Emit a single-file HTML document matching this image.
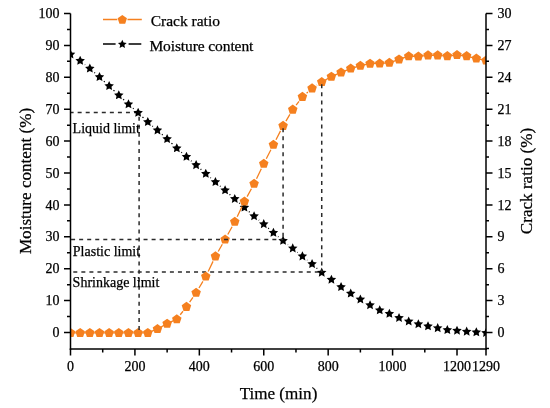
<!DOCTYPE html>
<html><head><meta charset="utf-8"><title>Moisture content and crack ratio vs time</title>
<style>
html,body{margin:0;padding:0;background:#fff;}
body{width:550px;height:408px;overflow:hidden;}
svg{display:block;}
text{font-family:"Liberation Serif","Times New Roman",serif;fill:#000;stroke:#000;stroke-width:0.25px;}
</style></head><body>
<svg width="550" height="408" viewBox="0 0 550 408">
<rect width="550" height="408" fill="#fff"/>
<path d="M70.5 112.5L138.14 112.5" stroke="#2b2b2b" stroke-width="1.5" fill="none" stroke-dasharray="4 4.05" stroke-dashoffset="0.9"/>
<path d="M70.5 271.9L321.73 271.9" stroke="#2b2b2b" stroke-width="1.5" fill="none" stroke-dasharray="4 4.05" stroke-dashoffset="5.25"/>
<defs><clipPath id="pa"><rect x="70.5" y="0" width="415.5" height="349.1"/></clipPath></defs>
<g clip-path="url(#pa)">
<path d="M84.87 64.52L85.12 64.72M94.3 72.44L95.01 73.07M103.89 81.13L104.75 81.92M113.49 90.14L114.48 91.1M123.22 99.32L124.07 100.1M132.96 108.17L133.66 108.8M142.47 116.94L143.47 117.89M152.36 125.95L152.91 126.43M161.94 134.33L162.65 134.96M171.46 143.1L172.46 144.05M181.27 152.19L181.97 152.82M191.01 160.72L191.56 161.2M200.6 169.1L201.3 169.73M210.33 177.63L210.89 178.11M219.99 185.92L220.55 186.4M229.58 194.3L230.29 194.93M239.25 202.91L239.95 203.54M248.91 211.53L249.61 212.15M258.72 219.97L259.13 220.3M268.23 228.11L268.94 228.74M278.05 236.55L278.45 236.89M287.78 244.44L288.04 244.64M297.37 252.18L297.78 252.52M307.11 260.07L307.37 260.27M316.55 267.99L317.25 268.62M336.17 283.26L336.28 283.34" stroke="#000" stroke-width="1.3" fill="none"/>
<polygon points="70.5,49.41 71.94,52.43 75.26,52.87 72.83,55.17 73.44,58.46 70.5,56.86 67.56,58.46 68.17,55.17 65.74,52.87 69.06,52.43" fill="#000"/>
<polygon points="80.16,55.79 81.6,58.81 84.92,59.25 82.49,61.55 83.1,64.84 80.16,63.24 77.22,64.84 77.83,61.55 75.41,59.25 78.72,58.81" fill="#000"/>
<polygon points="89.83,63.45 91.27,66.47 94.58,66.9 92.16,69.21 92.76,72.49 89.83,70.9 86.89,72.49 87.5,69.21 85.07,66.9 88.39,66.47" fill="#000"/>
<polygon points="99.49,72.06 100.93,75.08 104.24,75.52 101.82,77.82 102.43,81.11 99.49,79.51 96.55,81.11 97.16,77.82 94.73,75.52 98.05,75.08" fill="#000"/>
<polygon points="109.15,80.99 110.59,84.01 113.91,84.45 111.48,86.75 112.09,90.04 109.15,88.44 106.21,90.04 106.82,86.75 104.4,84.45 107.71,84.01" fill="#000"/>
<polygon points="118.81,90.25 120.25,93.26 123.57,93.7 121.14,96 121.75,99.29 118.81,97.7 115.88,99.29 116.48,96 114.06,93.7 117.37,93.26" fill="#000"/>
<polygon points="128.48,99.18 129.92,102.19 133.23,102.63 130.81,104.93 131.42,108.22 128.48,106.63 125.54,108.22 126.15,104.93 123.72,102.63 127.04,102.19" fill="#000"/>
<polygon points="138.14,107.79 139.58,110.81 142.89,111.24 140.47,113.55 141.08,116.84 138.14,115.24 135.2,116.84 135.81,113.55 133.38,111.24 136.7,110.81" fill="#000"/>
<polygon points="147.8,117.04 149.24,120.06 152.56,120.5 150.13,122.8 150.74,126.09 147.8,124.49 144.86,126.09 145.47,122.8 143.05,120.5 146.36,120.06" fill="#000"/>
<polygon points="157.47,125.34 158.91,128.35 162.22,128.79 159.8,131.09 160.4,134.38 157.47,132.78 154.53,134.38 155.14,131.09 152.71,128.79 156.03,128.35" fill="#000"/>
<polygon points="167.13,133.95 168.57,136.97 171.88,137.4 169.46,139.71 170.07,142.99 167.13,141.4 164.19,142.99 164.8,139.71 162.37,137.4 165.69,136.97" fill="#000"/>
<polygon points="176.79,143.2 178.23,146.22 181.55,146.65 179.12,148.96 179.73,152.24 176.79,150.65 173.85,152.24 174.46,148.96 172.04,146.65 175.35,146.22" fill="#000"/>
<polygon points="186.45,151.81 187.89,154.83 191.21,155.27 188.78,157.57 189.39,160.86 186.45,159.26 183.51,160.86 184.12,157.57 181.7,155.27 185.01,154.83" fill="#000"/>
<polygon points="196.12,160.11 197.56,163.12 200.87,163.56 198.45,165.86 199.06,169.15 196.12,167.56 193.18,169.15 193.79,165.86 191.36,163.56 194.68,163.12" fill="#000"/>
<polygon points="205.78,168.72 207.22,171.74 210.53,172.17 208.11,174.48 208.72,177.76 205.78,176.17 202.84,177.76 203.45,174.48 201.02,172.17 204.34,171.74" fill="#000"/>
<polygon points="215.44,177.01 216.88,180.03 220.2,180.47 217.77,182.77 218.38,186.06 215.44,184.46 212.5,186.06 213.11,182.77 210.69,180.47 214,180.03" fill="#000"/>
<polygon points="225.1,185.31 226.54,188.32 229.86,188.76 227.43,191.06 228.04,194.35 225.1,192.76 222.17,194.35 222.77,191.06 220.35,188.76 223.66,188.32" fill="#000"/>
<polygon points="234.77,193.92 236.21,196.94 239.52,197.37 237.1,199.68 237.71,202.97 234.77,201.37 231.83,202.97 232.44,199.68 230.01,197.37 233.33,196.94" fill="#000"/>
<polygon points="244.43,202.53 245.87,205.55 249.19,205.99 246.76,208.29 247.37,211.58 244.43,209.98 241.49,211.58 242.1,208.29 239.67,205.99 242.99,205.55" fill="#000"/>
<polygon points="254.09,211.15 255.53,214.16 258.85,214.6 256.42,216.9 257.03,220.19 254.09,218.6 251.15,220.19 251.76,216.9 249.34,214.6 252.65,214.16" fill="#000"/>
<polygon points="263.76,219.12 265.2,222.14 268.51,222.58 266.09,224.88 266.69,228.17 263.76,226.57 260.82,228.17 261.43,224.88 259,222.58 262.32,222.14" fill="#000"/>
<polygon points="273.42,227.73 274.86,230.75 278.17,231.19 275.75,233.49 276.36,236.78 273.42,235.18 270.48,236.78 271.09,233.49 268.66,231.19 271.98,230.75" fill="#000"/>
<polygon points="283.08,235.71 284.52,238.73 287.84,239.16 285.41,241.47 286.02,244.75 283.08,243.16 280.14,244.75 280.75,241.47 278.33,239.16 281.64,238.73" fill="#000"/>
<polygon points="292.74,243.37 294.18,246.38 297.5,246.82 295.07,249.12 295.68,252.41 292.74,250.81 289.81,252.41 290.41,249.12 287.99,246.82 291.3,246.38" fill="#000"/>
<polygon points="302.41,251.34 303.85,254.36 307.16,254.79 304.74,257.1 305.35,260.39 302.41,258.79 299.47,260.39 300.08,257.1 297.65,254.79 300.97,254.36" fill="#000"/>
<polygon points="312.07,259 313.51,262.01 316.83,262.45 314.4,264.75 315.01,268.04 312.07,266.45 309.13,268.04 309.74,264.75 307.31,262.45 310.63,262.01" fill="#000"/>
<polygon points="321.73,267.61 323.17,270.63 326.49,271.06 324.06,273.37 324.67,276.65 321.73,275.06 318.79,276.65 319.4,273.37 316.98,271.06 320.29,270.63" fill="#000"/>
<polygon points="331.4,274.63 332.84,277.64 336.15,278.08 333.73,280.38 334.33,283.67 331.4,282.08 328.46,283.67 329.07,280.38 326.64,278.08 329.96,277.64" fill="#000"/>
<polygon points="341.06,281.96 342.5,284.98 345.81,285.42 343.39,287.72 344,291.01 341.06,289.41 338.12,291.01 338.73,287.72 336.3,285.42 339.62,284.98" fill="#000"/>
<polygon points="350.72,288.5 352.16,291.52 355.48,291.96 353.05,294.26 353.66,297.55 350.72,295.95 347.78,297.55 348.39,294.26 345.97,291.96 349.28,291.52" fill="#000"/>
<polygon points="360.38,294.4 361.82,297.42 365.14,297.86 362.71,300.16 363.32,303.45 360.38,301.85 357.44,303.45 358.05,300.16 355.63,297.86 358.94,297.42" fill="#000"/>
<polygon points="370.05,300.15 371.49,303.16 374.8,303.6 372.38,305.9 372.99,309.19 370.05,307.6 367.11,309.19 367.72,305.9 365.29,303.6 368.61,303.16" fill="#000"/>
<polygon points="379.71,305.25 381.15,308.27 384.46,308.71 382.04,311.01 382.65,314.3 379.71,312.7 376.77,314.3 377.38,311.01 374.95,308.71 378.27,308.27" fill="#000"/>
<polygon points="389.37,308.76 390.81,311.78 394.13,312.21 391.7,314.52 392.31,317.81 389.37,316.21 386.43,317.81 387.04,314.52 384.62,312.21 387.93,311.78" fill="#000"/>
<polygon points="399.03,312.91 400.47,315.92 403.79,316.36 401.36,318.66 401.97,321.95 399.03,320.36 396.1,321.95 396.7,318.66 394.28,316.36 397.59,315.92" fill="#000"/>
<polygon points="408.7,316.42 410.14,319.43 413.45,319.87 411.03,322.17 411.64,325.46 408.7,323.87 405.76,325.46 406.37,322.17 403.94,319.87 407.26,319.43" fill="#000"/>
<polygon points="418.36,319.13 419.8,322.15 423.12,322.58 420.69,324.88 421.3,328.17 418.36,326.58 415.42,328.17 416.03,324.88 413.61,322.58 416.92,322.15" fill="#000"/>
<polygon points="428.02,321.2 429.46,324.22 432.78,324.66 430.35,326.96 430.96,330.25 428.02,328.65 425.08,330.25 425.69,326.96 423.27,324.66 426.58,324.22" fill="#000"/>
<polygon points="437.69,323.11 439.13,326.13 442.44,326.57 440.02,328.87 440.62,332.16 437.69,330.56 434.75,332.16 435.36,328.87 432.93,326.57 436.25,326.13" fill="#000"/>
<polygon points="447.35,325.03 448.79,328.05 452.1,328.48 449.68,330.79 450.29,334.07 447.35,332.48 444.41,334.07 445.02,330.79 442.59,328.48 445.91,328.05" fill="#000"/>
<polygon points="457.01,325.67 458.45,328.68 461.77,329.12 459.34,331.42 459.95,334.71 457.01,333.12 454.07,334.71 454.68,331.42 452.26,329.12 455.57,328.68" fill="#000"/>
<polygon points="466.67,326.62 468.11,329.64 471.43,330.08 469,332.38 469.61,335.67 466.67,334.07 463.74,335.67 464.34,332.38 461.92,330.08 465.23,329.64" fill="#000"/>
<polygon points="476.34,327.26 477.78,330.28 481.09,330.72 478.67,333.02 479.28,336.31 476.34,334.71 473.4,336.31 474.01,333.02 471.58,330.72 474.9,330.28" fill="#000"/>
<polygon points="486,327.9 487.44,330.92 490.76,331.35 488.33,333.66 488.94,336.95 486,335.35 483.06,336.95 483.67,333.66 481.24,331.35 484.56,330.92" fill="#000"/>
<path d="M70.5 332.9L80.16 332.9M80.16 332.9L89.83 332.9M89.83 332.9L99.49 332.9M99.49 332.9L109.15 332.9M109.15 332.9L118.81 332.9M118.81 332.9L128.48 332.9M128.48 332.9L138.14 332.9M138.14 332.9L147.8 332.9M147.8 332.9L157.47 328.97M157.47 328.97L167.13 323.65M167.13 323.65L176.79 319.18M180.24 314.77L183 311.26M189.63 302.24L192.94 297.42M198.98 288L202.92 281.36M208.2 271.49L213.03 261.39M218.22 251.48L222.33 244.29M227.79 234.52L232.08 226.69M237.18 216.73L242.01 206.63M247.11 196.66L251.42 188.74M256.52 178.77L261.33 168.77M266.29 158.73L270.88 149.68M275.98 139.71L280.52 130.85M285.94 121.05L289.88 114.41M296.12 105.14L299.03 101.3M306.61 93.14L307.87 92.03M316.74 85.25L317.06 85.04M321.73 81.95L331.4 76.64M331.4 76.64L341.06 72.38M341.06 72.38L350.72 68.56M350.72 68.56L360.38 65.68M360.38 65.68L370.05 63.66M370.05 63.66L379.71 63.45M379.71 63.45L389.37 62.81M389.37 62.81L399.03 59.41M399.03 59.41L408.7 56.22M408.7 56.22L418.36 56.43M418.36 56.43L428.02 55.37M428.02 55.37L437.69 55.37M437.69 55.37L447.35 56.11M447.35 56.11L457.01 55.05M457.01 55.05L466.67 56.11M466.67 56.11L476.34 58.56M476.34 58.56L486 60.47" stroke="#F5801F" stroke-width="1.3" fill="none"/>
<polygon points="70.5,327.9 75.26,331.35 73.44,336.95 67.56,336.95 65.74,331.35" fill="#F5801F"/>
<polygon points="80.16,327.9 84.92,331.35 83.1,336.95 77.22,336.95 75.41,331.35" fill="#F5801F"/>
<polygon points="89.83,327.9 94.58,331.35 92.76,336.95 86.89,336.95 85.07,331.35" fill="#F5801F"/>
<polygon points="99.49,327.9 104.24,331.35 102.43,336.95 96.55,336.95 94.73,331.35" fill="#F5801F"/>
<polygon points="109.15,327.9 113.91,331.35 112.09,336.95 106.21,336.95 104.4,331.35" fill="#F5801F"/>
<polygon points="118.81,327.9 123.57,331.35 121.75,336.95 115.88,336.95 114.06,331.35" fill="#F5801F"/>
<polygon points="128.48,327.9 133.23,331.35 131.42,336.95 125.54,336.95 123.72,331.35" fill="#F5801F"/>
<polygon points="138.14,327.9 142.89,331.35 141.08,336.95 135.2,336.95 133.38,331.35" fill="#F5801F"/>
<polygon points="147.8,327.9 152.56,331.35 150.74,336.95 144.86,336.95 143.05,331.35" fill="#F5801F"/>
<polygon points="157.47,323.97 162.22,327.42 160.4,333.01 154.53,333.01 152.71,327.42" fill="#F5801F"/>
<polygon points="167.13,318.65 171.88,322.1 170.07,327.69 164.19,327.69 162.37,322.1" fill="#F5801F"/>
<polygon points="176.79,314.18 181.55,317.64 179.73,323.23 173.85,323.23 172.04,317.64" fill="#F5801F"/>
<polygon points="186.45,301.85 191.21,305.3 189.39,310.89 183.51,310.89 181.7,305.3" fill="#F5801F"/>
<polygon points="196.12,287.81 200.87,291.27 199.06,296.86 193.18,296.86 191.36,291.27" fill="#F5801F"/>
<polygon points="205.78,271.54 210.53,275 208.72,280.59 202.84,280.59 201.02,275" fill="#F5801F"/>
<polygon points="215.44,251.34 220.2,254.79 218.38,260.39 212.5,260.39 210.69,254.79" fill="#F5801F"/>
<polygon points="225.1,234.43 229.86,237.89 228.04,243.48 222.17,243.48 220.35,237.89" fill="#F5801F"/>
<polygon points="234.77,216.78 239.52,220.24 237.71,225.83 231.83,225.83 230.01,220.24" fill="#F5801F"/>
<polygon points="244.43,196.58 249.19,200.03 247.37,205.62 241.49,205.62 239.67,200.03" fill="#F5801F"/>
<polygon points="254.09,178.82 258.85,182.28 257.03,187.87 251.15,187.87 249.34,182.28" fill="#F5801F"/>
<polygon points="263.76,158.72 268.51,162.18 266.69,167.77 260.82,167.77 259,162.18" fill="#F5801F"/>
<polygon points="273.42,139.69 278.17,143.14 276.36,148.74 270.48,148.74 268.66,143.14" fill="#F5801F"/>
<polygon points="283.08,120.87 287.84,124.32 286.02,129.91 280.14,129.91 278.33,124.32" fill="#F5801F"/>
<polygon points="292.74,104.6 297.5,108.05 295.68,113.65 289.81,113.65 287.99,108.05" fill="#F5801F"/>
<polygon points="302.41,91.84 307.16,95.29 305.35,100.89 299.47,100.89 297.65,95.29" fill="#F5801F"/>
<polygon points="312.07,83.33 316.83,86.79 315.01,92.38 309.13,92.38 307.31,86.79" fill="#F5801F"/>
<polygon points="321.73,76.95 326.49,80.41 324.67,86 318.79,86 316.98,80.41" fill="#F5801F"/>
<polygon points="331.4,71.64 336.15,75.09 334.33,80.68 328.46,80.68 326.64,75.09" fill="#F5801F"/>
<polygon points="341.06,67.38 345.81,70.84 344,76.43 338.12,76.43 336.3,70.84" fill="#F5801F"/>
<polygon points="350.72,63.56 355.48,67.01 353.66,72.6 347.78,72.6 345.97,67.01" fill="#F5801F"/>
<polygon points="360.38,60.68 365.14,64.14 363.32,69.73 357.44,69.73 355.63,64.14" fill="#F5801F"/>
<polygon points="370.05,58.66 374.8,62.12 372.99,67.71 367.11,67.71 365.29,62.12" fill="#F5801F"/>
<polygon points="379.71,58.45 384.46,61.91 382.65,67.5 376.77,67.5 374.95,61.91" fill="#F5801F"/>
<polygon points="389.37,57.81 394.13,61.27 392.31,66.86 386.43,66.86 384.62,61.27" fill="#F5801F"/>
<polygon points="399.03,54.41 403.79,57.87 401.97,63.46 396.1,63.46 394.28,57.87" fill="#F5801F"/>
<polygon points="408.7,51.22 413.45,54.68 411.64,60.27 405.76,60.27 403.94,54.68" fill="#F5801F"/>
<polygon points="418.36,51.43 423.12,54.89 421.3,60.48 415.42,60.48 413.61,54.89" fill="#F5801F"/>
<polygon points="428.02,50.37 432.78,53.82 430.96,59.42 425.08,59.42 423.27,53.82" fill="#F5801F"/>
<polygon points="437.69,50.37 442.44,53.82 440.62,59.42 434.75,59.42 432.93,53.82" fill="#F5801F"/>
<polygon points="447.35,51.11 452.1,54.57 450.29,60.16 444.41,60.16 442.59,54.57" fill="#F5801F"/>
<polygon points="457.01,50.05 461.77,53.51 459.95,59.1 454.07,59.1 452.26,53.51" fill="#F5801F"/>
<polygon points="466.67,51.11 471.43,54.57 469.61,60.16 463.74,60.16 461.92,54.57" fill="#F5801F"/>
<polygon points="476.34,53.56 481.09,57.01 479.28,62.61 473.4,62.61 471.58,57.01" fill="#F5801F"/>
<polygon points="486,55.47 490.76,58.93 488.94,64.52 483.06,64.52 481.24,58.93" fill="#F5801F"/>
</g>
<path d="M139.1 112.5L139.1 332.5" stroke="#2b2b2b" stroke-width="1.5" fill="none" stroke-dasharray="4 4.05" stroke-dashoffset="3.85"/>
<path d="M70.5 239.4L283.08 239.4" stroke="#2b2b2b" stroke-width="1.5" fill="none" stroke-dasharray="4 4.05" stroke-dashoffset="7.45"/>
<path d="M283.08 125.47L283.08 239.4" stroke="#2b2b2b" stroke-width="1.5" fill="none" stroke-dasharray="4 4.05" stroke-dashoffset="5.32"/>
<path d="M321.73 81.55L321.73 271.9" stroke="#2b2b2b" stroke-width="1.5" fill="none" stroke-dasharray="4 4.05" stroke-dashoffset="5.3"/>
<path d="M70.5 13.5V349.85" stroke="#000" stroke-width="1.5" fill="none"/>
<path d="M486 13.5V349.85" stroke="#000" stroke-width="1.5" fill="none"/>
<path d="M69.75 349.1H486.75" stroke="#000" stroke-width="1.5" fill="none"/>
<path d="M70.5 332.5H64M70.5 316.55H67M70.5 300.6H64M70.5 284.65H67M70.5 268.7H64M70.5 252.75H67M70.5 236.8H64M70.5 220.85H67M70.5 204.9H64M70.5 188.95H67M70.5 173H64M70.5 157.05H67M70.5 141.1H64M70.5 125.15H67M70.5 109.2H64M70.5 93.25H67M70.5 77.3H64M70.5 61.35H67M70.5 45.4H64M70.5 29.45H67M70.5 13.5H64M486 348.45H489M486 332.5H492.5M486 316.55H489M486 300.6H492.5M486 284.65H489M486 268.7H492.5M486 252.75H489M486 236.8H492.5M486 220.85H489M486 204.9H492.5M486 188.95H489M486 173H492.5M486 157.05H489M486 141.1H492.5M486 125.15H489M486 109.2H492.5M486 93.25H489M486 77.3H492.5M486 61.35H489M486 45.4H492.5M486 29.45H489M486 13.5H492.5M70.5 349.1V355.6M102.71 349.1V352.6M134.92 349.1V355.6M167.13 349.1V352.6M199.34 349.1V355.6M231.55 349.1V352.6M263.76 349.1V355.6M295.97 349.1V352.6M328.17 349.1V355.6M360.38 349.1V352.6M392.59 349.1V355.6M424.8 349.1V352.6M457.01 349.1V355.6M486 349.1V355.6" stroke="#000" stroke-width="1.5" fill="none"/>
<text x="59.5" y="337.1" text-anchor="end" font-size="14">0</text><text x="59.5" y="305.2" text-anchor="end" font-size="14">10</text><text x="59.5" y="273.3" text-anchor="end" font-size="14">20</text><text x="59.5" y="241.4" text-anchor="end" font-size="14">30</text><text x="59.5" y="209.5" text-anchor="end" font-size="14">40</text><text x="59.5" y="177.6" text-anchor="end" font-size="14">50</text><text x="59.5" y="145.7" text-anchor="end" font-size="14">60</text><text x="59.5" y="113.8" text-anchor="end" font-size="14">70</text><text x="59.5" y="81.9" text-anchor="end" font-size="14">80</text><text x="59.5" y="50" text-anchor="end" font-size="14">90</text><text x="59.5" y="18.1" text-anchor="end" font-size="14">100</text><text x="497.5" y="337.1" font-size="14">0</text><text x="497.5" y="305.2" font-size="14">3</text><text x="497.5" y="273.3" font-size="14">6</text><text x="497.5" y="241.4" font-size="14">9</text><text x="497.5" y="209.5" font-size="14">12</text><text x="497.5" y="177.6" font-size="14">15</text><text x="497.5" y="145.7" font-size="14">18</text><text x="497.5" y="113.8" font-size="14">21</text><text x="497.5" y="81.9" font-size="14">24</text><text x="497.5" y="50" font-size="14">27</text><text x="497.5" y="18.1" font-size="14">30</text><text x="70.5" y="370.6" text-anchor="middle" font-size="14">0</text><text x="134.92" y="370.6" text-anchor="middle" font-size="14">200</text><text x="199.34" y="370.6" text-anchor="middle" font-size="14">400</text><text x="263.76" y="370.6" text-anchor="middle" font-size="14">600</text><text x="328.17" y="370.6" text-anchor="middle" font-size="14">800</text><text x="392.59" y="370.6" text-anchor="middle" font-size="14">1000</text><text x="457.01" y="370.6" text-anchor="middle" font-size="14">1200</text><text x="486" y="370.6" text-anchor="middle" font-size="14">1290</text>
<text x="72.6" y="132.6" font-size="14">Liquid limit</text>
<text x="72.8" y="256.4" font-size="14">Plastic limit</text>
<text x="72.6" y="286.9" font-size="14">Shrinkage limit</text>
<text x="278.5" y="399" text-anchor="middle" font-size="17.1">Time (min)</text>
<text transform="translate(30.6 181) rotate(-90)" text-anchor="middle" font-size="17.1">Moisture content (%)</text>
<text transform="translate(532 181) rotate(-90)" text-anchor="middle" font-size="17.1">Crack ratio (%)</text>
<path d="M103 19.5H117.3M127.5 19.5H141.8" stroke="#F5801F" stroke-width="1.5"/>
<polygon points="122.3,14.9 126.96,18.29 125.18,23.76 119.42,23.76 117.64,18.29" fill="#F5801F"/>
<path d="M103 44H115.6M128.6 44H141.3" stroke="#000" stroke-width="1.5"/>
<polygon points="122.3,39.7 123.59,42.52 126.67,42.88 124.39,44.98 125,48.02 122.3,46.5 119.6,48.02 120.21,44.98 117.93,42.88 121.01,42.52" fill="#000"/>
<text x="150.7" y="26.2" font-size="15.5">Crack ratio</text>
<text x="149.4" y="50.9" font-size="15.5" letter-spacing="-0.1">Moisture content</text>
</svg>
</body></html>
